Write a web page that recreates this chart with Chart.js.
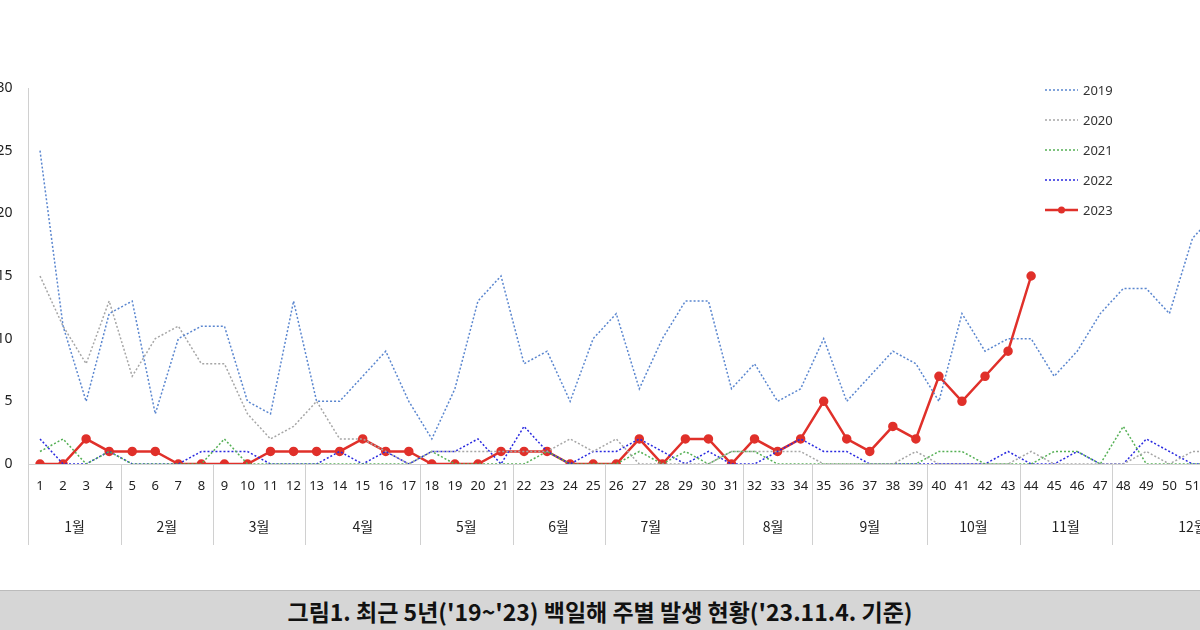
<!DOCTYPE html>
<html><head><meta charset="utf-8">
<script src="https://cdn.jsdelivr.net/npm/chart.js@4"></script>
<style>
html,body{margin:0;padding:0;width:1200px;height:630px;overflow:hidden;background:#fff;font-family:"Noto Sans CJK KR","Noto Sans",sans-serif}
#wrap{position:absolute;left:-14px;top:0;width:1251px;height:588px}
#title{position:absolute;left:0;top:590px;width:1200px;height:40px;background:#d6d6d6;border-top:1px solid #bbb;text-align:center;font:bold 23px "Noto Sans CJK KR";line-height:40px;color:#111}
</style></head><body>
<div id="wrap"><canvas id="c"></canvas></div>
<div id="title">그림1. 최근 5년('19~'23) 백일해 주별 발생 현황('23.11.4. 기준)</div>
<script>
const weeks = Array.from({length:52},(_,i)=>String(i+1));
const y2019 = [25,11,5,12,13,4,10,11,11,5,4,13,5,5,7,9,5,2,6,13,15,8,9,5,10,12,6,10,13,13,6,8,5,6,10,5,7,9,8,5,12,9,10,10,7,9,12,14,14,12,18,20];
const y2020 = [15,11,8,13,7,10,11,8,8,4,2,3,5,2,2,1,0,1,1,1,1,1,1,2,1,2,0,0,0,0,1,1,1,1,0,0,0,0,1,0,0,0,0,1,0,0,0,0,1,0,1,1];
const y2021 = [1,2,0,1,0,0,0,0,2,0,0,0,0,0,0,0,0,1,0,0,0,0,1,0,0,0,1,0,1,0,1,1,0,0,0,0,0,0,0,1,1,0,0,0,1,1,0,3,0,0,0,0];
const y2022 = [2,0,0,1,0,0,0,1,1,1,0,0,0,1,0,1,0,1,1,2,0,3,1,0,1,1,2,1,0,1,0,0,1,2,1,1,0,0,0,0,0,0,1,0,0,1,0,0,2,1,0,0];
const y2023 = [0,0,2,1,1,1,0,0,0,0,1,1,1,1,2,1,1,0,0,0,1,1,1,0,0,0,2,0,2,2,0,2,1,2,5,2,1,3,2,7,5,7,9,15];
const yTicks = [0,5,10,15,20,25,30];
const months = ['1월','2월','3월','4월','5월','6월','7월','8월','9월','10월','11월','12월'];
const monthCenters = [2.5,6.5,10.5,15,19.5,23.5,27.5,32.8,37,41.5,45.5,51];
const monthBounds = [4.5,8.5,12.5,17.5,21.5,25.5,31.5,34.5,39.5,43.5,47.5];

const dotted = (label,data,color)=>({label,data,borderColor:color,backgroundColor:color,borderWidth:1.5,borderDash:[2,2],pointRadius:0,tension:0});
const extras = {
  id:'extras',
  afterDraw(chart){
    const ctx=chart.ctx, xs=chart.scales.x, a=chart.chartArea;
    ctx.save();
    ctx.strokeStyle='#d0d0d0'; ctx.lineWidth=1;
    ctx.beginPath(); ctx.moveTo(a.left,a.top); ctx.lineTo(a.left,545); ctx.stroke();
    const px=v=>xs.getPixelForValue(0)+(v-1)*(xs.getPixelForValue(1)-xs.getPixelForValue(0));
    monthBounds.forEach(b=>{const x=Math.round(px(b))+0.5;ctx.beginPath();ctx.moveTo(x,a.bottom);ctx.lineTo(x,545);ctx.stroke();});
    ctx.fillStyle='#222'; ctx.font='14px "Noto Sans CJK KR"'; ctx.textAlign='center'; ctx.textBaseline='middle';
    months.forEach((m,i)=>ctx.fillText(m,px(monthCenters[i]),527));
    ctx.textAlign='left'; ctx.font='13px "Noto Sans"'; ctx.fillStyle='#333';
    chart.data.datasets.forEach((d,i)=>{
      const y=90+i*30, x0=1059, x1=1092;
      ctx.strokeStyle=d.borderColor; ctx.lineWidth=d.borderWidth;
      ctx.setLineDash(d.borderDash||[]);
      ctx.beginPath(); ctx.moveTo(x0,y); ctx.lineTo(x1,y); ctx.stroke(); ctx.setLineDash([]);
      if(d.pointRadius){ctx.fillStyle=d.borderColor;ctx.beginPath();ctx.arc((x0+x1)/2,y,3.5,0,Math.PI*2);ctx.fill();}
      ctx.fillStyle='#333'; ctx.fillText(d.label,1097,y+1);
    });
    ctx.restore();
  }
};
new Chart(document.getElementById('c'),{
  type:'line',
  data:{labels:weeks,datasets:[
    dotted('2019',y2019,'#5a86cf'),
    dotted('2020',y2020,'#a6a6a6'),
    dotted('2021',y2021,'#55b055'),
    dotted('2022',y2022,'#2a2ae0'),
    {label:'2023',data:y2023,borderColor:'#e0302a',backgroundColor:'#e0302a',borderWidth:2.5,pointRadius:3.5,pointHoverRadius:3.5,tension:0}
  ]},
  options:{
    responsive:true,maintainAspectRatio:false,animation:false,
    layout:{padding:{top:88,right:3,left:0,bottom:0}},
    plugins:{legend:{display:false},tooltip:{enabled:false}},
    scales:{
      x:{offset:true,grid:{display:false,drawTicks:false},border:{color:'#d0d0d0'},
        ticks:{color:'#222',font:{size:13,family:'Noto Sans'},padding:14,maxRotation:0,autoSkip:false},
        afterFit(s){s.height=124;}},
      y:{min:0,max:30,grid:{display:false,drawTicks:false},border:{display:false},
        afterBuildTicks(s){s.ticks=yTicks.map(v=>({value:v}));},
        ticks:{color:'#222',font:{size:14,family:'Noto Sans'},padding:16},
        afterFit(s){s.width=42.5;}}
    }
  },
  plugins:[extras]
});
</script></body></html>
